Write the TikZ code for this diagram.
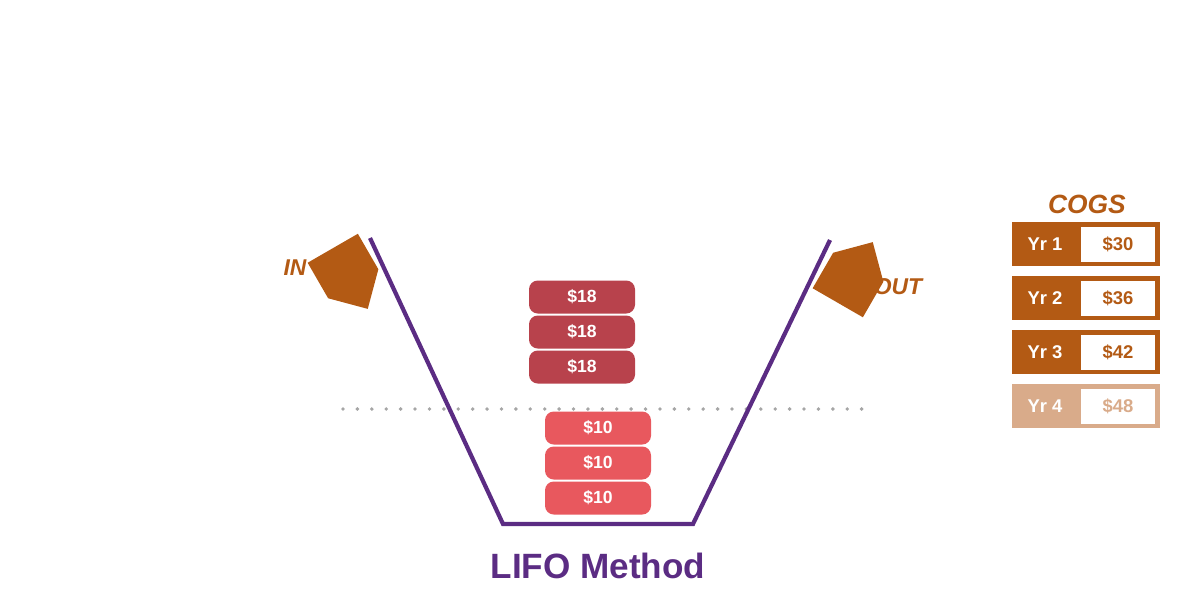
\documentclass[tikz,border=0pt]{standalone}
\usepackage{fontspec}
\setmainfont{Liberation Sans}
\usetikzlibrary{shapes.arrows}
\definecolor{purp}{HTML}{5B2C83}
\definecolor{ora}{HTML}{B35A14}
\definecolor{dred}{HTML}{B8424C}
\definecolor{lred}{HTML}{E8585E}
\definecolor{pale}{HTML}{D9AB8A}
\tikzset{
 coin/.style={rounded corners=5pt,minimum width=106*0.02cm,minimum height=33*0.02cm,text=white,font=\fontsize{10}{12}\selectfont\bfseries,inner sep=0pt},
 bigarrow/.style={single arrow,fill=ora,minimum height=70*0.02cm,minimum width=58*0.02cm,single arrow head extend=0pt,inner sep=4pt},
 lab/.style={text=ora,font=\fontsize{13}{15}\selectfont\bfseries\itshape},
 yr/.style={fill=#1,minimum width=148*0.02cm,minimum height=44*0.02cm,inner sep=0pt},
 val/.style={fill=white,minimum width=74*0.02cm,minimum height=35*0.02cm,inner sep=0pt,font=\fontsize{10.5}{12}\selectfont\bfseries},
}
\begin{document}
\begin{tikzpicture}[x=0.02cm,y=-0.02cm]
\useasboundingbox (0,0) rectangle (1200,600);
\draw[gray!70,line width=2.2pt,dash pattern=on 0pt off 8.2pt,line cap=round] (343,409) -- (866,409);
\coordinate (f1) at (370,238); \coordinate (f2) at (503,524);
\coordinate (f3) at (693,524); \coordinate (f4) at (830,240);
\draw[purp,line width=2.4pt] (f1) -- (f2) -- (f3) -- (f4);
\foreach \y/\n in {297/a,332/b,367/c} \node[coin,fill=dred] (d\n) at (582,\y) {\$18};
\foreach \y/\n in {428/a,463/b,498/c} \node[coin,fill=lred] (l\n) at (598,\y) {\$10};
\node[lab] (in) at (295,268) {IN};
\node[bigarrow,rotate=-60] (ain) at (343,266) {};
\node[lab] (out) at (898,287) {OUT};
\node[bigarrow,rotate=60] (aout) at (848,285) {};
\node[text=purp,font=\fontsize{20}{24}\selectfont\bfseries] (title) at (598,566) {LIFO Method};
\node[lab,font=\fontsize{15}{18}\selectfont\bfseries\itshape] (cogs) at (1087,204) {COGS};
\foreach \y/\a/\b/\c in {244/1/30/ora,298/2/36/ora,352/3/42/ora,406/4/48/pale}{
 \node[yr=\c] (y\a) at (1086,\y) {};
 \node[text=white,font=\fontsize{10.5}{12}\selectfont\bfseries] (t\a) at (1045,\y) {Yr \a};
 \node[val,text=\c] (v\a) at (1118,\y) {\$\b};
}
\end{tikzpicture}
\end{document}
